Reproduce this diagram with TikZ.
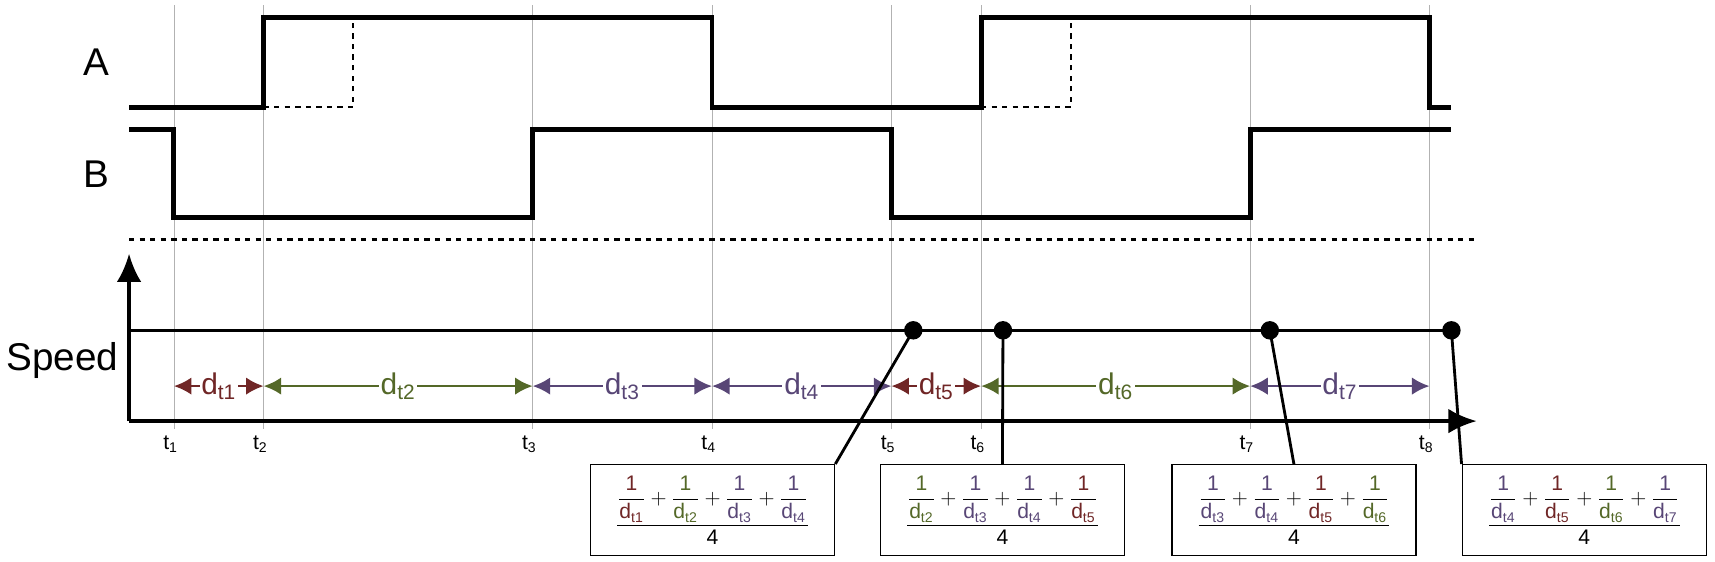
\documentclass[tikz,border=0pt]{standalone}
\usepackage{amsmath}
\usepackage{fontspec}
\setmainfont{Liberation Sans}
\usetikzlibrary{arrows.meta,calc}
\definecolor{dred}{RGB}{112,38,38}
\definecolor{dgreen}{RGB}{84,104,40}
\definecolor{dpurple}{RGB}{88,70,118}
\newcommand{\fr}[2]{\dfrac{\textcolor{#1}{\text{1}}}{\textcolor{#1}{\text{d}_{\text{t#2}}}}}
\newcommand{\avg}[8]{$\dfrac{\fr{#1}{#2}+\fr{#3}{#4}+\fr{#5}{#6}+\fr{#7}{#8}}{\text{4}}$}
\tikzset{
  sig/.style={line width=2.8pt},
  gridl/.style={gray!60,line width=0.4pt},
  span/.style={line width=1.5pt,{Latex[length=10pt,width=10pt]}-{Latex[length=10pt,width=10pt]}},
  dlab/.style={fill=white,inner sep=1pt,font=\fontsize{17}{17}\selectfont},
  dot/.style={circle,fill=black,inner sep=0pt,minimum size=10.5pt},
  avgbox/.style={draw,line width=0.8pt,minimum width=4.88cm,minimum height=1.82cm,font=\fontsize{12}{12}\selectfont},
}
\begin{document}
\begin{tikzpicture}[x=0.02187cm,y=-0.02187cm]
	\useasboundingbox (0,0) rectangle (1568,513);

	% grid lines
	\foreach \x/\i in {159/1,241/2,487/3,651/4,815/5,897/6,1143/7,1307/8}{
		\draw[gridl] (\x,5) -- (\x,392);
		\node[fill=white,inner sep=1pt,font=\fontsize{12}{12}\selectfont] (t\i) at (\x-3,406) {t$_{\text{\i}}$};
	}

	\node[font=\fontsize{22}{22}\selectfont] (la) at (88,57) {A};
	\node[font=\fontsize{22}{22}\selectfont] (lb) at (88,159) {B};
	\node[font=\fontsize{22}{22}\selectfont] (ls) at (57,330) {Speed};

	% signal A
	\draw[sig] (118,98) -- (241,98) -- (241,16) -- (651,16) -- (651,98) -- (897,98) -- (897,16) -- (1307,16) -- (1307,98) -- (1327,98);
	\draw[dashed,line width=1pt] (241,98) -- (323,98) -- (323,16);
	\draw[dashed,line width=1pt] (897,98) -- (979,98) -- (979,16);
	% signal B
	\draw[sig] (118,118) -- (159,118) -- (159,199) -- (487,199) -- (487,118) -- (815,118) -- (815,199) -- (1143,199) -- (1143,118) -- (1327,118);
	\draw[dashed,line width=1.2pt] (118,219) -- (1350,219);

	% axes
	\draw[line width=2pt,-{Latex[length=16pt,width=14pt]}] (118,385) -- (118,232);
	\draw[line width=2pt,-{Latex[length=16pt,width=14pt]}] (118,385) -- (1350,385);
	\draw[line width=2pt] (118,302) -- (1327,302);

	% intervals
	\draw[span,dred] (159,353) -- node[dlab]{d$_{\text{t1}}$} (241,353);
	\draw[span,dgreen] (241,353) -- node[dlab]{d$_{\text{t2}}$} (487,353);
	\draw[span,dpurple] (487,353) -- node[dlab]{d$_{\text{t3}}$} (651,353);
	\draw[span,dpurple] (651,353) -- node[dlab]{d$_{\text{t4}}$} (815,353);
	\draw[span,dred] (815,353) -- node[dlab]{d$_{\text{t5}}$} (897,353);
	\draw[span,dgreen] (897,353) -- node[dlab]{d$_{\text{t6}}$} (1143,353);
	\draw[span,dpurple] (1143,353) -- node[dlab]{d$_{\text{t7}}$} (1307,353);

	% averages
	\node[dot] (p1) at (835,302) {};
	\node[dot] (p2) at (917,302) {};
	\node[dot] (p3) at (1161,302) {};
	\node[dot] (p4) at (1327,302) {};
	\node[avgbox] (b1) at (651.5,466.5) {\avg{dred}{1}{dgreen}{2}{dpurple}{3}{dpurple}{4}};
	\node[avgbox] (b2) at (916.5,466.5) {\avg{dgreen}{2}{dpurple}{3}{dpurple}{4}{dred}{5}};
	\node[avgbox] (b3) at (1183,466.5) {\avg{dpurple}{3}{dpurple}{4}{dred}{5}{dgreen}{6}};
	\node[avgbox] (b4) at (1448.5,466.5) {\avg{dpurple}{4}{dred}{5}{dgreen}{6}{dpurple}{7}};
	\draw[line width=1.6pt] (p1.center) -- (b1.north east);
	\draw[line width=1.6pt] (p2.center) -- (b2.north);
	\draw[line width=1.6pt] (p3.center) -- (b3.north);
	\draw[line width=1.6pt] (p4.center) -- (b4.north west);
\end{tikzpicture}
\end{document}
